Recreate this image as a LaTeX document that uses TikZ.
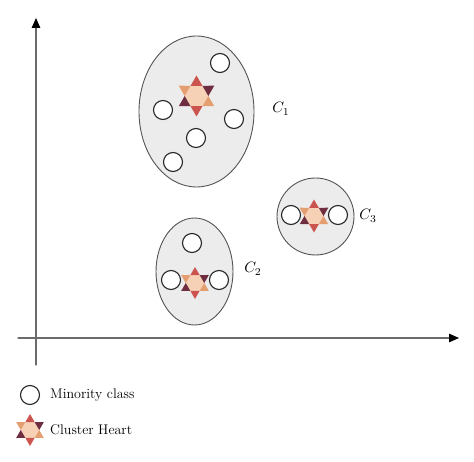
\documentclass[tikz,border=0pt]{standalone}
\usepackage{tikz}
\usetikzlibrary{arrows.meta,calc,positioning,shapes}
\definecolor{heartred}{rgb}{0.80,0.33,0.31}
\definecolor{hearttan}{rgb}{0.90,0.62,0.44}
\definecolor{heartdark}{rgb}{0.43,0.18,0.25}
\definecolor{heartcore}{rgb}{0.97,0.82,0.71}
\definecolor{clusterfill}{rgb}{0.925,0.925,0.925}
\definecolor{clusterline}{rgb}{0.33,0.33,0.33}
\definecolor{axisgray}{rgb}{0.42,0.42,0.42}
\tikzset{
  minority/.style={circle,draw=black!85,line width=1.1pt,fill=white,minimum size=19pt,inner sep=0pt},
  cluster/.style={draw=clusterline,line width=0.9pt,fill=clusterfill},
  clabel/.style={scale=1.5},
  legtext/.style={anchor=west,inner sep=0pt,font=\fontsize{14}{16}\selectfont}
}
% hexagram: #1 centre, #2 outer radius (y axis points down)
\newcommand{\heartstar}[2]{%
  \begin{scope}[shift={#1},scale=#2]
    \fill[heartcore] (0:0.577) -- (60:0.577) -- (120:0.577) -- (180:0.577) -- (240:0.577) -- (300:0.577) -- cycle;
    \fill[heartred] (270:1) -- (240:0.577) -- (300:0.577) -- cycle;
    \fill[heartred] (90:1) -- (60:0.577) -- (120:0.577) -- cycle;
    \fill[heartdark] (330:1) -- (300:0.577) -- (0:0.577) -- cycle;
    \fill[heartdark] (150:1) -- (120:0.577) -- (180:0.577) -- cycle;
    \fill[hearttan] (210:1) -- (180:0.577) -- (240:0.577) -- cycle;
    \fill[hearttan] (30:1) -- (0:0.577) -- (60:0.577) -- cycle;
  \end{scope}}

\begin{document}
\begin{tikzpicture}[line cap=round,line join=round,x=1pt,y=-1pt]
\useasboundingbox (0,0) rectangle (474,462);
% axes
\coordinate (ybot) at (36,365);
\coordinate (ytop) at (36,18);
\coordinate (xleft) at (18,338);
\coordinate (xright) at (459,338);
\draw[axisgray,line width=1.3pt,-{Triangle[length=10pt,width=8.5pt,color=black]}] (ybot) -- (ytop);
\draw[axisgray,line width=1.3pt,-{Triangle[length=10pt,width=8.5pt,color=black]}] (xleft) -- (xright);
% clusters
\draw[cluster] (196.5,111.5) ellipse (57.5 and 75.5);
\draw[cluster] (194.5,271.5) ellipse (38.5 and 53.5);
\draw[cluster] (315.5,216.5) circle (38.5);
% minority samples
\node[minority] (a1) at (220,63) {};
\node[minority] (a2) at (163,110) {};
\node[minority] (a3) at (234,119) {};
\node[minority] (a4) at (196,138) {};
\node[minority] (a5) at (173,162) {};
\node[minority] (b1) at (192,243) {};
\node[minority] (b2) at (171,280) {};
\node[minority] (b3) at (219,280) {};
\node[minority] (d1) at (291,215) {};
\node[minority] (d2) at (338,215) {};
% cluster hearts
\heartstar{(196.5,96)}{20.5}
\heartstar{(195,283)}{16}
\heartstar{(314,216)}{16.5}
% labels
\node[clabel] (l1) at (281,109) {$C_1$};
\node[clabel] (l2) at (253,269) {$C_2$};
\node[clabel] (l3) at (368,216) {$C_3$};
% legend
\node[minority] (kc) at (30,395) {};
\node[legtext] (kt1) at (50,395) {Minority class};
\heartstar{(30,430)}{16}
\node[legtext] (kt2) at (50,430) {Cluster Heart};
\end{tikzpicture}
\end{document}
